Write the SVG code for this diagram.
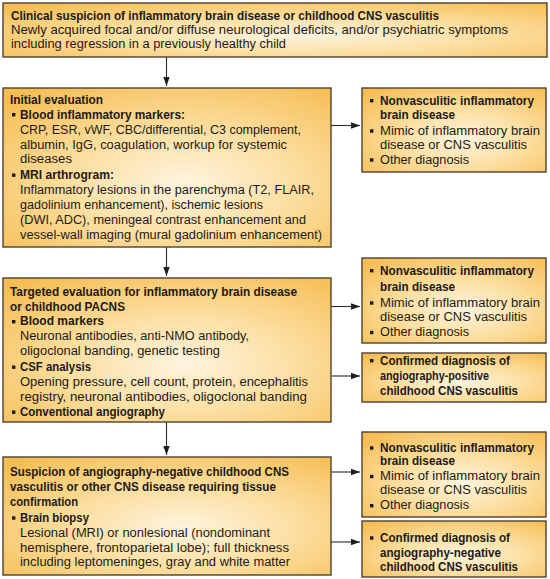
<svg xmlns="http://www.w3.org/2000/svg" width="550" height="579" viewBox="0 0 550 579">
<style>
.box{stroke:#4f4130;stroke-width:1.4;fill:url(#g)}
text{font-family:"Liberation Sans",Arial,sans-serif;font-size:12.5px;fill:#1d1a16}
.b{font-weight:bold}
.bul{fill:#1d1a16}
.c{stroke:#2a2a2a;stroke-width:1.1;fill:none;marker-end:url(#ah)}
</style>
<defs>
<radialGradient id="g" cx="0.55" cy="0.6" r="0.75">
<stop offset="0" stop-color="#fef4df"/>
<stop offset="0.45" stop-color="#fcdfa2"/>
<stop offset="1" stop-color="#f6bd52"/>
</radialGradient>
<marker id="ah" markerUnits="userSpaceOnUse" markerWidth="10" markerHeight="8" refX="9" refY="4" orient="auto">
<path d="M0,0.8 L9,4 L0,7.2 Z" fill="#1d1d1d"/>
</marker>
</defs>

<g id="connectors">
<line class="c" x1="166.5" y1="57" x2="166.5" y2="86"/>
<line class="c" x1="166.5" y1="247" x2="166.5" y2="276"/>
<line class="c" x1="166.5" y1="422" x2="166.5" y2="455"/>
<line class="c" x1="331" y1="125.5" x2="360" y2="125.5"/>
<line class="c" x1="331" y1="306.5" x2="360" y2="306.5"/>
<line class="c" x1="331" y1="376" x2="360" y2="376"/>
<line class="c" x1="331" y1="472" x2="360" y2="472"/>
<line class="c" x1="331" y1="542" x2="360" y2="542"/>
</g>

<g id="n1">
<rect class="box" x="3" y="3" width="544" height="54"/>
<text class="b" x="11" y="19.5" textLength="428" lengthAdjust="spacingAndGlyphs">Clinical suspicion of inflammatory brain disease or childhood CNS vasculitis</text>
<text x="11" y="33.5" textLength="497" lengthAdjust="spacingAndGlyphs">Newly acquired focal and/or diffuse neurological deficits, and/or psychiatric symptoms</text>
<text x="11" y="47.5" textLength="275" lengthAdjust="spacingAndGlyphs">including regression in a previously healthy child</text>
</g>

<g id="n2">
<rect class="box" x="3" y="88" width="328" height="159"/>
<text class="b" x="10" y="104" textLength="93" lengthAdjust="spacingAndGlyphs">Initial evaluation</text>
<rect class="bul" x="12" y="113" width="3.4" height="3.4"/>
<text class="b" x="20" y="118.5" textLength="165" lengthAdjust="spacingAndGlyphs">Blood inflammatory markers:</text>
<text x="20" y="134.3" textLength="281" lengthAdjust="spacingAndGlyphs">CRP, ESR, vWF, CBC/differential, C3 complement,</text>
<text x="20" y="148.5" textLength="267" lengthAdjust="spacingAndGlyphs">albumin, IgG, coagulation, workup for systemic</text>
<text x="20" y="163" textLength="52" lengthAdjust="spacingAndGlyphs">diseases</text>
<rect class="bul" x="12" y="173.5" width="3.4" height="3.4"/>
<text class="b" x="20" y="179" textLength="94" lengthAdjust="spacingAndGlyphs">MRI arthrogram:</text>
<text x="20" y="194" textLength="294" lengthAdjust="spacingAndGlyphs">Inflammatory lesions in the parenchyma (T2, FLAIR,</text>
<text x="20" y="209" textLength="243" lengthAdjust="spacingAndGlyphs">gadolinium enhancement), ischemic lesions</text>
<text x="20" y="224" textLength="286" lengthAdjust="spacingAndGlyphs">(DWI, ADC), meningeal contrast enhancement and</text>
<text x="20" y="239" textLength="302" lengthAdjust="spacingAndGlyphs">vessel-wall imaging (mural gadolinium enhancement)</text>
</g>

<g id="n3">
<rect class="box" x="362" y="88" width="184" height="84"/>
<rect class="bul" x="370" y="99" width="3.4" height="3.4"/>
<text class="b" x="380" y="104.5" textLength="154" lengthAdjust="spacingAndGlyphs">Nonvasculitic inflammatory</text>
<text class="b" x="380" y="118.5" textLength="75" lengthAdjust="spacingAndGlyphs">brain disease</text>
<rect class="bul" x="370" y="129.3" width="3.4" height="3.4"/>
<text x="380" y="134.5" textLength="160" lengthAdjust="spacingAndGlyphs">Mimic of inflammatory brain</text>
<text x="380" y="148.5" textLength="147" lengthAdjust="spacingAndGlyphs">disease or CNS vasculitis</text>
<rect class="bul" x="370" y="158.3" width="3.4" height="3.4"/>
<text x="380" y="163.5" textLength="89" lengthAdjust="spacingAndGlyphs">Other diagnosis</text>
</g>

<g id="n4">
<rect class="box" x="3" y="278" width="328" height="144"/>
<text class="b" x="10" y="296" textLength="287" lengthAdjust="spacingAndGlyphs">Targeted evaluation for inflammatory brain disease</text>
<text class="b" x="10" y="311" textLength="115" lengthAdjust="spacingAndGlyphs">or childhood PACNS</text>
<rect class="bul" x="12" y="320" width="3.4" height="3.4"/>
<text class="b" x="20" y="325.3" textLength="84" lengthAdjust="spacingAndGlyphs">Blood markers</text>
<text x="20" y="340.3" textLength="229" lengthAdjust="spacingAndGlyphs">Neuronal antibodies, anti-NMO antibody,</text>
<text x="20" y="354.5" textLength="200" lengthAdjust="spacingAndGlyphs">oligoclonal banding, genetic testing</text>
<rect class="bul" x="12" y="365.5" width="3.4" height="3.4"/>
<text class="b" x="20" y="370.8" textLength="71" lengthAdjust="spacingAndGlyphs">CSF analysis</text>
<text x="20" y="386" textLength="288" lengthAdjust="spacingAndGlyphs">Opening pressure, cell count, protein, encephalitis</text>
<text x="20" y="401" textLength="287" lengthAdjust="spacingAndGlyphs">registry, neuronal antibodies, oligoclonal banding</text>
<rect class="bul" x="12" y="410.5" width="3.4" height="3.4"/>
<text class="b" x="20" y="415.7" textLength="145" lengthAdjust="spacingAndGlyphs">Conventional angiography</text>
</g>

<g id="n5">
<rect class="box" x="362" y="258" width="184" height="85"/>
<rect class="bul" x="370" y="269" width="3.4" height="3.4"/>
<text class="b" x="380" y="274.5" textLength="154" lengthAdjust="spacingAndGlyphs">Nonvasculitic inflammatory</text>
<text class="b" x="380" y="290.5" textLength="75" lengthAdjust="spacingAndGlyphs">brain disease</text>
<rect class="bul" x="370" y="301.3" width="3.4" height="3.4"/>
<text x="380" y="306.5" textLength="160" lengthAdjust="spacingAndGlyphs">Mimic of inflammatory brain</text>
<text x="380" y="320.7" textLength="147" lengthAdjust="spacingAndGlyphs">disease or CNS vasculitis</text>
<rect class="bul" x="370" y="330.8" width="3.4" height="3.4"/>
<text x="380" y="336" textLength="89" lengthAdjust="spacingAndGlyphs">Other diagnosis</text>
</g>

<g id="n6">
<rect class="box" x="362" y="353" width="184" height="49"/>
<rect class="bul" x="370" y="359" width="3.4" height="3.4"/>
<text class="b" x="380" y="364.5" textLength="130" lengthAdjust="spacingAndGlyphs">Confirmed diagnosis of</text>
<text class="b" x="380" y="379.5" textLength="109" lengthAdjust="spacingAndGlyphs">angiography-positive</text>
<text class="b" x="380" y="394.8" textLength="138" lengthAdjust="spacingAndGlyphs">childhood CNS vasculitis</text>
</g>

<g id="n7">
<rect class="box" x="3" y="457" width="328" height="118"/>
<text class="b" x="10" y="476" textLength="279" lengthAdjust="spacingAndGlyphs">Suspicion of angiography-negative childhood CNS</text>
<text class="b" x="10" y="491" textLength="266" lengthAdjust="spacingAndGlyphs">vasculitis or other CNS disease requiring tissue</text>
<text class="b" x="10" y="506" textLength="68" lengthAdjust="spacingAndGlyphs">confirmation</text>
<rect class="bul" x="12" y="516.3" width="3.4" height="3.4"/>
<text class="b" x="20" y="521.6" textLength="69" lengthAdjust="spacingAndGlyphs">Brain biopsy</text>
<text x="20" y="536.6" textLength="250" lengthAdjust="spacingAndGlyphs">Lesional (MRI) or nonlesional (nondominant</text>
<text x="20" y="551.5" textLength="269" lengthAdjust="spacingAndGlyphs">hemisphere, frontoparietal lobe); full thickness</text>
<text x="20" y="566" textLength="270" lengthAdjust="spacingAndGlyphs">including leptomeninges, gray and white matter</text>
</g>

<g id="n8">
<rect class="box" x="362" y="432" width="184" height="85"/>
<rect class="bul" x="370" y="446.3" width="3.4" height="3.4"/>
<text class="b" x="380" y="451.6" textLength="154" lengthAdjust="spacingAndGlyphs">Nonvasculitic inflammatory</text>
<text class="b" x="380" y="465" textLength="75" lengthAdjust="spacingAndGlyphs">brain disease</text>
<rect class="bul" x="370" y="474.8" width="3.4" height="3.4"/>
<text x="380" y="480" textLength="160" lengthAdjust="spacingAndGlyphs">Mimic of inflammatory brain</text>
<text x="380" y="494.3" textLength="147" lengthAdjust="spacingAndGlyphs">disease or CNS vasculitis</text>
<rect class="bul" x="370" y="504" width="3.4" height="3.4"/>
<text x="380" y="509.3" textLength="89" lengthAdjust="spacingAndGlyphs">Other diagnosis</text>
</g>

<g id="n9">
<rect class="box" x="362" y="521" width="184" height="56"/>
<rect class="bul" x="370" y="536.3" width="3.4" height="3.4"/>
<text class="b" x="380" y="541.6" textLength="130" lengthAdjust="spacingAndGlyphs">Confirmed diagnosis of</text>
<text class="b" x="380" y="556.6" textLength="121" lengthAdjust="spacingAndGlyphs">angiography-negative</text>
<text class="b" x="380" y="570.7" textLength="138" lengthAdjust="spacingAndGlyphs">childhood CNS vasculitis</text>
</g>
</svg>
